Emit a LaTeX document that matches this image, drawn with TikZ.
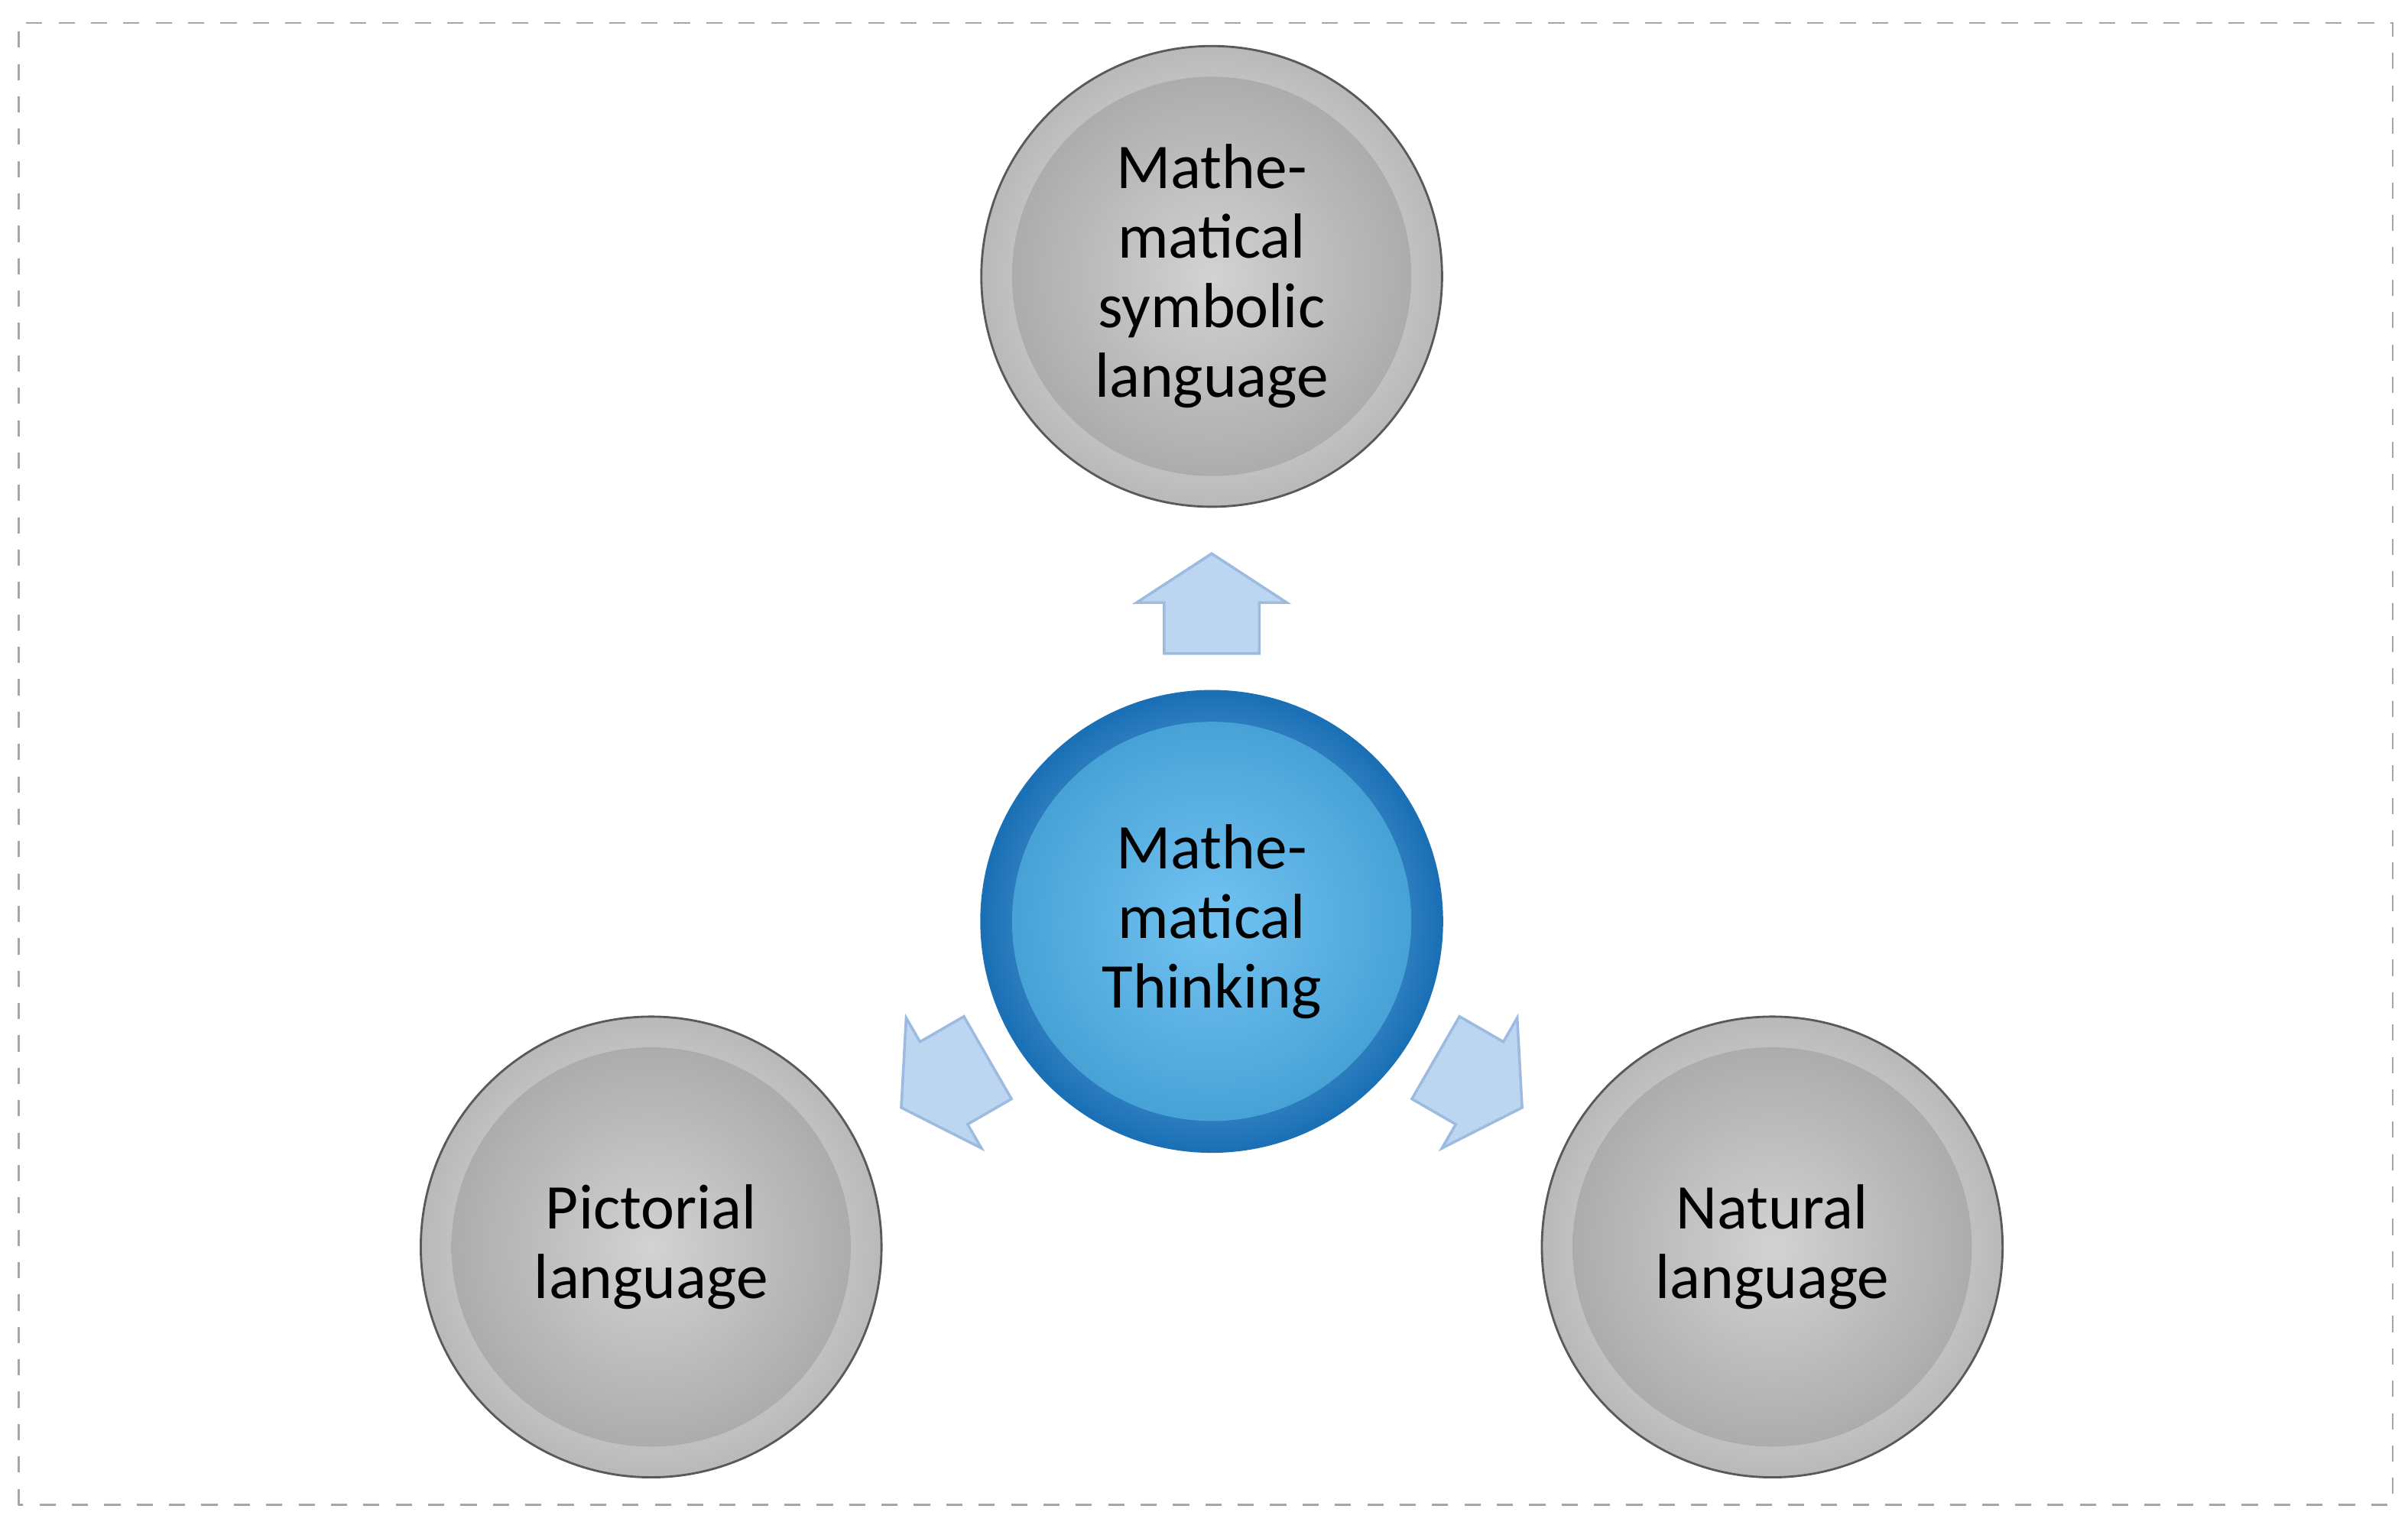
\documentclass[tikz,border=0pt]{standalone}
\usepackage{fontspec}
\setmainfont{Carlito}
\definecolor{arrfill}{HTML}{BCD5F0}
\definecolor{arrdraw}{HTML}{9DBBE0}
\definecolor{bluedark}{HTML}{1A6FB5}
\definecolor{bluelight}{HTML}{4FB4EE}
\tikzset{
  ringgray/.style={circle, minimum size=3.0cm, draw=gray!70!black, line width=0.4pt, inner color=gray!10, outer color=gray!55},
  coregray/.style={circle, minimum size=2.6cm, inner color=gray!35, outer color=gray!65},
  ringblue/.style={circle, minimum size=3.0cm, draw=bluedark, inner color=bluelight!60, outer color=bluedark},
  coreblue/.style={circle, minimum size=2.6cm, inner color=bluelight!80, outer color=bluelight!90!black},
  lbl/.style={align=center, font=\fontsize{11.8}{12.9}\selectfont, text=black},
  blockarrow/.style={fill=arrfill, draw=arrdraw, line width=0.5pt}
}
\newcommand{\blockarr}[3]{%
  \coordinate (#1) at (#2);
  \draw[blockarrow, shift={(#2)}, rotate=#3] (-0.325,-0.31) -- (0.005,-0.31) -- (0.005,-0.49) -- (0.325,0) -- (0.005,0.49) -- (0.005,0.31) -- (-0.325,0.31) -- cycle;}
\begin{document}
\begin{tikzpicture}
\useasboundingbox (0,0) rectangle (15.68,9.91);
\draw[gray!70, dashed, line width=0.4pt] (0.12,0.11) rectangle (15.58,9.76);
% circles
\node[ringgray] (topR) at (7.89,8.11) {};
\node[coregray] (topC) at (7.89,8.11) {};
\node[lbl] (top) at (7.89,8.11) {Mathe-\\matical\\symbolic\\language};
\node[ringblue] (midR) at (7.89,3.91) {};
\node[coreblue] (midC) at (7.89,3.91) {};
\node[lbl] (mid) at (7.89,3.91) {Mathe-\\matical\\Thinking};
\node[ringgray] (leftR) at (4.24,1.79) {};
\node[coregray] (leftC) at (4.24,1.79) {};
\node[lbl] (left) at (4.24,1.79) {Pictorial\\language};
\node[ringgray] (rightR) at (11.54,1.79) {};
\node[coregray] (rightC) at (11.54,1.79) {};
\node[lbl] (right) at (11.54,1.79) {Natural\\language};
% arrows
\blockarr{aup}{7.89,5.98}{90}
\blockarr{aleft}{6.15,2.86}{210}
\blockarr{aright}{9.63,2.86}{330}
\end{tikzpicture}
\end{document}
